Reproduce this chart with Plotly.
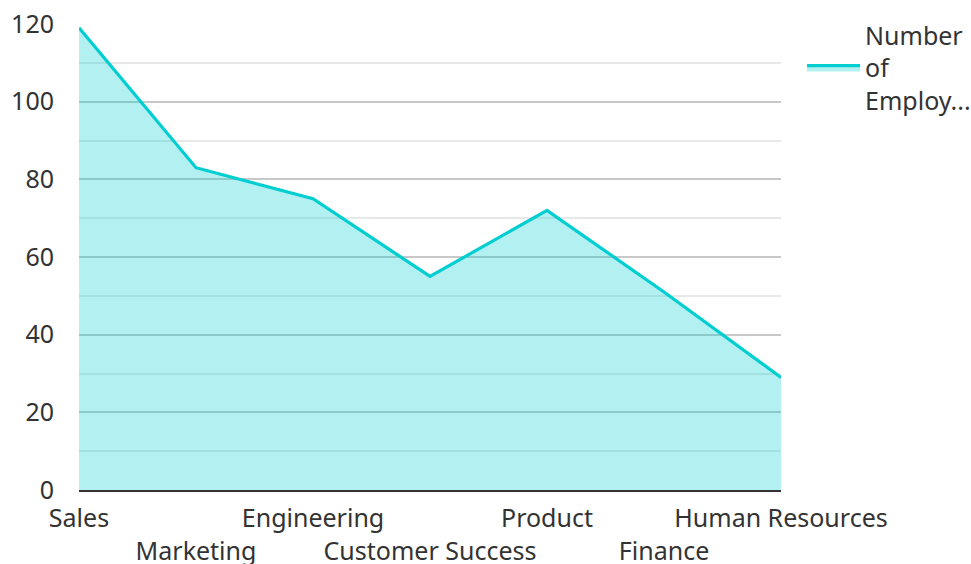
import plotly.graph_objects as go

categories = ["Sales", "Marketing", "Engineering", "Customer Success", "Product", "Finance", "Human Resources"]
employees = [119, 83, 75, 55, 72, 51, 29]
series_name = "Number<br>of<br>Employ..."
y_ticks = [0, 20, 40, 60, 80, 100, 120]

tick_text = [c if i % 2 == 0 else "<br>" + c for i, c in enumerate(categories)]

FONT = "Noto Sans"
TXT = "#333333"
FS = 25

fig = go.Figure()
fig.add_trace(go.Scatter(
    x=categories, y=employees, name=series_name, mode="lines",
    line=dict(color="#00CED1", width=3.2),
    fill="tozeroy", fillcolor="rgba(0,206,209,0.3)",
))

fig.update_layout(
    width=971, height=564,
    margin=dict(l=79, r=190, t=24, b=74, autoexpand=False),
    paper_bgcolor="white", plot_bgcolor="white",
    font=dict(family=FONT, size=FS, color=TXT),
    showlegend=True,
    legend=dict(x=1.03, y=1.025, xanchor="left", yanchor="top",
                font=dict(size=FS, color=TXT), itemwidth=53,
                bgcolor="rgba(0,0,0,0)"),
)
fig.update_xaxes(
    type="category", range=[0, len(categories) - 1],
    tickvals=categories, ticktext=tick_text, tickangle=0, automargin=False,
    showgrid=False, showline=True, linecolor="#333333", linewidth=2,
    ticks="", tickfont=dict(size=FS, color=TXT), zeroline=False,
    ticklabelstandoff=5,
)
fig.update_yaxes(
    range=[0, 120], tickvals=y_ticks, automargin=False,
    showgrid=True, gridcolor="#c8c8c8", gridwidth=1.5,
    minor=dict(dtick=10, showgrid=True, gridcolor="#e8e8e8", gridwidth=1.5),
    showline=False, zeroline=False, ticklabelstandoff=24,
    ticks="", tickfont=dict(size=FS, color=TXT),
)

fig.write_html("out.html", config={"displayModeBar": False},
               post_script="document.body.style.margin='0';")
